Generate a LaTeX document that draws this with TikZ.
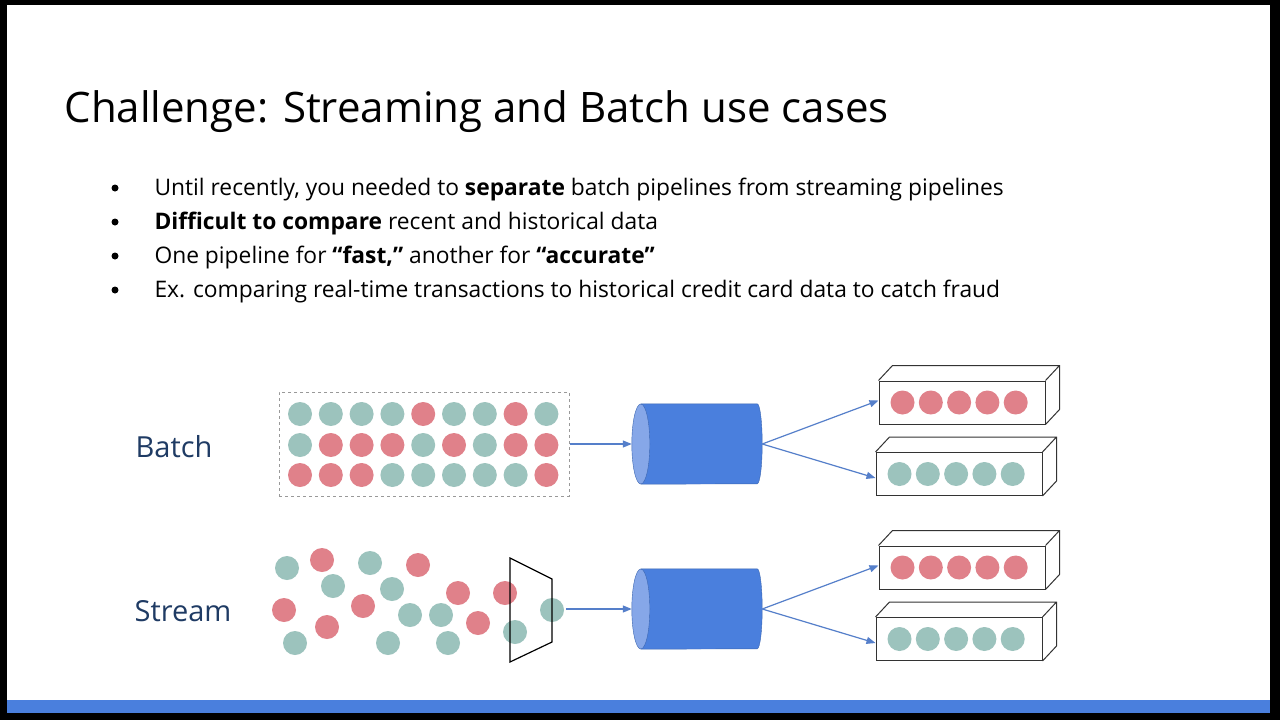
\documentclass[tikz,border=0pt]{standalone}
\usepackage{fontspec}
\setmainfont{Open Sans}
\usetikzlibrary{arrows.meta}
\definecolor{teal}{HTML}{9CC3BD}
\definecolor{rose}{HTML}{E0818A}
\definecolor{pipe}{HTML}{4A7FDD}
\definecolor{pipeend}{HTML}{86A7E8}
\definecolor{navy}{HTML}{1F3B64}
\tikzset{
  dot/.style={circle,fill=#1,minimum size=24pt,inner sep=0pt},
  flow/.style={draw=pipe!80!gray,line width=1.2pt,-{Triangle[length=9pt,width=7pt]}},
  pipeline/.style={minimum width=130pt,minimum height=80pt,inner sep=0pt},
  front/.style={draw=black!80,line width=1pt,minimum width=166pt,minimum height=43pt,inner sep=0pt},
  label/.style={text=navy,font=\fontsize{29}{32}\selectfont},
  pointmark/.style={circle,fill=black,minimum size=7pt,inner sep=0pt},
  bullet/.style={anchor=base west,font=\fontsize{22.8}{26}\selectfont}
}
\newcommand{\sinkbox}[3]{% name, center, colour
  \node[front] (#1) at #2 {};
  \draw[black!80,line width=1pt] (#1.north west) -- ++(14,-15) -- ([shift={(14,-15)}]#1.north east) -- ([shift={(14,-15)}]#1.south east) -- (#1.south east)
    (#1.north east) -- ++(14,-15);
  \foreach \k in {0,...,4}
    \node[dot=#3] at ([xshift={24+\k*28.3}]#1.west) {};
}
\newcommand{\drum}[1]{% cylinder around node #1
  \fill[pipe,draw=pipe!80!black] ([xshift=9]#1.north west) -- ([xshift=-5]#1.north east)
    arc[start angle=-90,end angle=90,x radius=5,y radius=40] -- ([xshift=9]#1.south west) -- cycle;
  \fill[pipeend,draw=pipe!80!black] ([xshift=9]#1.west) ellipse[x radius=9,y radius=40];
}
\begin{document}
\begin{tikzpicture}[x=1pt,y=-1pt]
\fill[black] (0,0) rectangle (1280,720);
\fill[white] (7,5) rectangle (1270,713);
\fill[pipe] (7,700) rectangle (1270,713);

% title and bullets
\node[anchor=base west,font=\fontsize{42}{46}\selectfont] (title) at (61,122) {Challenge: Streaming and Batch use cases};
\foreach \y/\t in {195/{Until recently, you needed to \textbf{separate} batch pipelines from streaming pipelines},
                   229/{\textbf{Difficult to compare} recent and historical data},
                   263/{One pipeline for \textbf{“fast,”} another for \textbf{“accurate”}},
                   297/{Ex. comparing real-time transactions to historical credit card data to catch fraud}}{
  \node[pointmark] at (115,\y-7) {};
  \node[bullet] at (151,\y) {\t};
}

% labels
\node[label] (lbatch) at (174,447) {Batch};
\node[label] (lstream) at (183,611) {Stream};

% batch grid
\node[draw=gray!80,dashed,line width=1pt,minimum width=290pt,minimum height=104pt,inner sep=0pt] (grid) at (424,444) {};
\foreach \row/\y in {{t,t,t,t,r,t,t,r,t}/414,{t,r,r,r,t,r,t,r,r}/445,{r,r,r,t,t,t,t,t,r}/475}{
  \foreach \c [count=\i from 0] in \row {
    \if\c r\def\col{rose}\else\def\col{teal}\fi
    \node[dot=\col] at (300+\i*30.8,\y) {};
  }
}

% stream dots
\foreach \x/\y/\c in {287/568/teal,322/560/rose,370/563/teal,418/565/rose,333/586/teal,392/589/teal,
  458/593/rose,505/593/rose,284/610/rose,363/606/rose,410/615/teal,441/615/teal,552/610/teal,
  478/623/rose,327/627/rose,515/632/teal,295/643/teal,388/643/teal,448/643/teal}
  \node[dot=\c] at (\x,\y) {};

% window
\coordinate (w1) at (510,558); \coordinate (w2) at (552,579);
\coordinate (w3) at (552,642); \coordinate (w4) at (510,662);
\draw[line width=1.2pt] (w1) -- (w2) -- (w3) -- (w4) -- cycle;
\coordinate (wout) at (566,609);

% pipelines
\node[pipeline] (pb) at (697,444) {};
\node[pipeline] (ps) at (697,609) {};
\drum{pb}
\drum{ps}
\draw[flow] (grid.east) -- (pb.west);
\draw[flow] (wout) -- (ps.west);

% sinks
\sinkbox{bt}{(962,402.5)}{rose}
\sinkbox{bb}{(959,474)}{teal}
\sinkbox{st}{(962,567.5)}{rose}
\sinkbox{sb}{(959,639)}{teal}
\draw[flow] (pb.east) -- ([yshift=2]bt.west);
\draw[flow] (pb.east) -- ([yshift=-4]bb.west);
\draw[flow] (ps.east) -- ([yshift=2]st.west);
\draw[flow] (ps.east) -- ([yshift=-4]sb.west);
\end{tikzpicture}
\end{document}
